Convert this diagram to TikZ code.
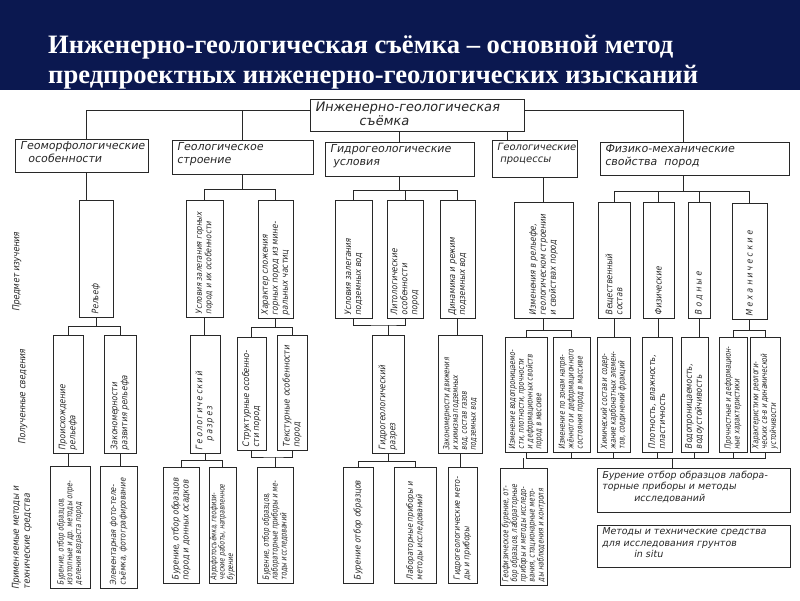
\documentclass[tikz,border=0pt]{standalone}
\usepackage{fontspec}
\newfontfamily\handn[FakeStretch=0.85,FakeSlant=0.18]{DejaVu Sans}
\newfontfamily\handx[FakeStretch=0.75,FakeSlant=0.18]{DejaVu Sans}
\newfontfamily\handw[FakeSlant=0.18]{DejaVu Sans}
\newfontfamily\ttl{Liberation Serif}
\usetikzlibrary{calc}
\definecolor{navy}{RGB}{11,24,80}
\definecolor{ink}{RGB}{40,40,40}
\newcommand\VB[7][]{%
 \pgfmathsetmacro\myw{#5-#3}\pgfmathsetmacro\myh{#6-#4}%
 \node[bx, minimum width=\myw pt, minimum height=\myh pt] (#2) at ({(#3+#5)/2},{(#4+#6)/2}) {};
 \node[vt,#1] at ([yshift=3pt]#2.south) {#7};}
\newcommand\HB[7][]{%
 \pgfmathsetmacro\myw{#5-#3}\pgfmathsetmacro\myh{#6-#4}%
 \node[bx, minimum width=\myw pt, minimum height=\myh pt] (#2) at ({(#3+#5)/2},{(#4+#6)/2}) {};
 \node[ht,#1] at ([xshift=5pt,yshift=-3pt]#2.north west) {#7};}
\begin{document}
\begin{tikzpicture}[x=1pt,y=-1pt,
 bx/.style={draw=ink, line width=0.8pt, inner sep=0, rectangle},
 vt/.style={rotate=90, anchor=west, align=left, inner sep=0, text=ink, font=\handn\fontsize{9}{10}\selectfont},
 mid/.style={font=\handn\fontsize{8.5}{9.5}\selectfont},
 dense/.style={font=\handx\fontsize{8.5}{8.8}\selectfont},
 tight/.style={font=\handx\fontsize{8}{8.4}\selectfont},
 ht/.style={anchor=north west, align=left, inner sep=0, text=ink, font=\handw\fontsize{11}{13}\selectfont},
 sl/.style={rotate=90, align=left, inner sep=0, text=ink, font=\handn\fontsize{9.5}{11}\selectfont},
 ln/.style={draw=ink, line width=0.8pt}]
\useasboundingbox (0,0) rectangle (800,600);
\fill[white] (0,0) rectangle (800,600);
\fill[navy] (0,0) rectangle (800,90);
\node[anchor=base west, text=white, font=\ttl\bfseries\fontsize{26.6}{30}\selectfont, inner sep=0] (t1) at (48,53) {Инженерно-геологическая съёмка – основной метод};
\node[anchor=base west, text=white, font=\ttl\bfseries\fontsize{26.6}{30}\selectfont, inner sep=0] (t2) at (48,83) {предпроектных инженерно-геологических изысканий};

% top and categories
\HB[font=\handw\fontsize{13}{14}\selectfont]{root}{310}{99}{524}{131}{Инженерно-геологическая\\\hspace{44pt}съёмка}
\HB{geom}{15}{139}{148}{172}{Геоморфологические\\\hspace{8pt}особенности}
\HB{geol}{172}{140}{313}{174}{Геологическое\\строение}
\HB{hydro}{325}{142}{474}{176}{Гидрогеологические\\\hspace{3pt}условия}
\HB[font=\handw\fontsize{10}{12.5}\selectfont]{proc}{492}{140}{577}{177}{Геологические\\\hspace{3pt}процессы}
\HB{phys}{600}{142}{789}{175}{Физико-механические\\свойства\ \ пород}

% row 2
\VB{relief}{79}{200}{113}{317}{Рельеф}
\VB[mid]{g1}{186}{200}{223}{317}{Условия залегания горных\\пород и их особенности}
\VB{g2}{258}{200}{293}{318}{Характер сложения\\горных пород из мине-\\ральных частиц}
\VB{h1}{335}{200}{372}{318}{Условия залегания\\подземных вод}
\VB{h2}{387}{200}{423}{318}{Литологические\\особенности\\пород}
\VB{h3}{440}{200}{475}{318}{Динамика и режим\\подземных вод}
\VB{p1}{514}{202}{573}{318}{Изменения в рельефе,\\геологическом строении\\и свойствах пород}
\VB{m1}{598}{202}{630}{318}{Вещественный\\состав}
\VB{m2}{643}{202}{674}{318}{Физические}
\VB{m3}{688}{202}{710}{318}{В о д н ы е}
\VB{m4}{732}{203}{767}{319}{М е х а н и ч е с к и е}

% row 3
\VB{r1}{53}{335}{83}{453}{Происхождение\\рельефа}
\VB{r2}{104}{335}{136}{453}{Закономерности\\развития рельефа}
\VB{g3}{190}{335}{220}{453}{Г\,е\,о\,л\,о\,г\,и\,ч\,е\,с\,к\,и\,й\\\quad р\,а\,з\,р\,е\,з}
\VB{g4}{237}{337}{266}{450}{Структурные особенно-\\сти пород}
\VB{g5}{277}{335}{307}{450}{Текстурные особенности\\пород}
\VB{h4}{372}{335}{404}{453}{Гидрогеологический\\разрез}
\VB[dense]{h5}{438}{335}{482}{453}{Закономерности движения\\и химизма подземных\\вод, состав газов\\подземных вод}
\VB[dense]{p2}{505}{337}{547}{452}{Изменение водопроницаемо-\\сти, плотности, прочности\\и деформационных свойств\\пород в массиве}
\VB[dense]{p3}{553}{337}{590}{452}{Изменение по зонам напря-\\жённого и деформационного\\состояния пород в массиве}
\VB[dense]{m5}{597}{337}{630}{452}{Химический состав и содер-\\жание карбонатных элемен-\\тов, соединений фракций}
\VB{m6}{642}{337}{672}{452}{Плотность, влажность,\\пластичность}
\VB{m7}{681}{337}{708}{452}{Водопроницаемость,\\водоустойчивость}
\VB[dense]{m8}{719}{337}{747}{452}{Прочностные и деформацион-\\ные характеристики}
\VB[dense]{m9}{750}{337}{780}{452}{Характеристики реологи-\\ческих св-в и динамической\\устойчивости}

% row 4
\VB[dense]{r3}{50}{466}{90}{588}{Бурение, отбор образцов,\\изотопные и др. методы опре-\\деления возраста пород}
\VB[mid]{r4}{100}{466}{137}{588}{Элементарная фото-теле-\\съёмка, фотографирование}
\VB{g6}{163}{467}{199}{583}{Бурение, отбор образцов\\пород и донных осадков}
\VB[tight]{g7}{209}{467}{236}{583}{Аэрофотосъёмка, геофизи-\\ческие работы, направленное\\бурение}
\VB[dense]{g8}{257}{467}{293}{583}{Бурение, отбор образцов,\\лабораторные приборы и ме-\\тоды исследований}
\VB{h6}{343}{467}{373}{583}{Бурение отбор образцов}
\VB[mid]{h7}{394}{467}{436}{583}{Лабораторные приборы и\\методы исследований}
\VB[mid]{h8}{448}{467}{477}{583}{Гидрогеологические мето-\\ды и приборы}
\VB[dense]{p4}{500}{468}{547}{585}{Геофизическое бурение, от-\\бор образцов, лабораторные\\приборы и методы исследо-\\вания, стационарные мето-\\ды наблюдения и контроля}
\HB[font=\handw\fontsize{9.5}{11.5}\selectfont]{w1}{597}{468}{790}{512}{Бурение отбор образцов лабора-\\торные приборы и методы\\\hspace{32pt}исследований}
\HB[font=\handw\fontsize{9.5}{11.5}\selectfont]{w2}{597}{525}{790}{567}{Методы и технические средства\\для исследования грунтов\\\hspace{32pt}in situ}

% side labels
\node[sl] (s1) at (17,272) {Предмет изучения};
\node[sl] (s2) at (23,397) {Полученные сведения};
\node[sl] (s3) at (22,538) {Применяемые методы и\\технические средства};

% connectors: level 1
\coordinate (tl) at ([yshift=5pt]root.west);
\coordinate (tr) at ([yshift=5pt]root.east);
\draw[ln] (tl) -| ([xshift=5pt]geom.north);
\draw[ln] (geol.north) -- (geol.north |- tl);
\draw[ln] (tr) -| ([xshift=-11pt]phys.north);
\draw[ln] (hydro.north) -- (hydro.north |- root.south);
\coordinate (pt) at ([xshift=-27pt]proc.north);
\draw[ln] (pt) -- (pt |- root.south);

% level 2
\coordinate (gs) at ([xshift=5pt]geom.south);
\draw[ln] (gs) -- (gs |- relief.north);
\draw[ln] (geol.south) -- ++(0,15) coordinate (gb);
\draw[ln] (g1.north) |- (gb) -| (g2.north);
\draw[ln] (hydro.south) -- ++(0,14) coordinate (hb);
\draw[ln] (h1.north) |- (hb) -| (h3.north);
\draw[ln] (h2.north) -- (h2.north |- hb);
\draw[ln] (p1.north) -- (p1.north |- proc.south);
\draw[ln] ([xshift=-11pt]phys.south) -- ++(0,16) coordinate (mb);
\draw[ln] (m1.north) |- (mb) -| (m4.north);
\draw[ln] (m2.north) -- (m2.north |- mb);
\draw[ln] (m3.north) -- (m3.north |- mb);

% level 3
\draw[ln] (relief.south) -- ++(0,9) coordinate (rb);
\draw[ln] (r1.north) |- (rb) -| (r2.north);
\draw[ln] (g1.south) -- (g1.south |- g3.north);
\draw[ln] (g2.south) -- ++(0,9) coordinate (gb2);
\draw[ln] (g4.north) |- (gb2) -| (g5.north);
\coordinate (hj) at (388,325);
\draw[ln] (h1.south) |- (hj) -| (h2.south);
\draw[ln] (hj) -- (h4.north);
\draw[ln] (h3.south) -- (h3.south |- h5.north);
\draw[ln] (p1.south) -- ++(0,12) coordinate (pb);
\draw[ln] (p2.north) |- (pb) -| (p3.north);
\draw[ln] (m1.south) -- (m1.south |- m5.north);
\draw[ln] (m2.south) -- (m2.south |- m6.north);
\draw[ln] (m3.south) -- (m3.south |- m7.north);
\draw[ln] (m4.south) -- ++(0,11) coordinate (mb2);
\draw[ln] (m8.north) |- (mb2) -| (m9.north);

% level 4
\draw[ln] (r1.south) -- (r1.south |- r3.north);
\draw[ln] (r2.south) -- (r2.south |- r4.north);
\draw[ln] (g3.south) -- ++(0,7) coordinate (gb3);
\draw[ln] (g6.north) |- (gb3) -| (g7.north);
\coordinate (gj) at (275,457);
\draw[ln] (g4.south) |- (gj) -| (g5.south);
\draw[ln] (gj) -- (g8.north);
\draw[ln] (h4.south) -- ++(0,8) coordinate (hb3);
\draw[ln] (h6.north) |- (hb3) -| (h7.north);
\draw[ln] (h5.south) -- (h5.south |- h8.north);
\coordinate (bb) at (672,458);
\draw[ln] (p2.south) -- (p2.south |- bb) -- (m9.south |- bb) -- (m9.south);
\foreach \n in {p3,m5,m6,m7,m8} \draw[ln] (\n.south) -- (\n.south |- bb);
\draw[ln] (bb) -- (bb |- w1.north);
\draw[ln] (p4.north |- bb) -- (p4.north);
\end{tikzpicture}
\end{document}
